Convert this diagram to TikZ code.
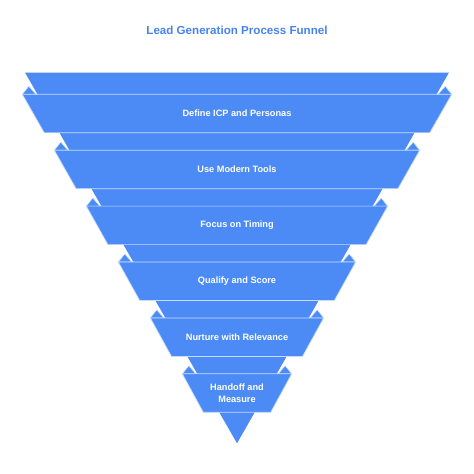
\documentclass[tikz,border=0pt]{standalone}
\usepackage{fontspec}
\setmainfont{Liberation Sans}
\definecolor{funnelblue}{RGB}{76,139,245}
\definecolor{titleblue}{RGB}{70,132,236}
\definecolor{edgecol}{RGB}{200,220,252}
\begin{document}
\begin{tikzpicture}[x=1pt,y=-1pt,
  cone/.style={fill=funnelblue},
  stagebox/.style={fill=funnelblue,draw=edgecol,line width=0.7pt,line join=miter},
  ear/.style={fill=funnelblue,draw=edgecol,line width=0.6pt},
  label/.style={text=white,font=\bfseries\fontsize{9.2}{11.4}\selectfont,align=center,inner sep=0pt},
  title/.style={text=titleblue,font=\bfseries\fontsize{11.6}{13}\selectfont,inner sep=0pt}]
\useasboundingbox (0,0) rectangle (474,474);
\fill[white] (0,0) rectangle (474,474);
\node[title] (ttl) at (237,30.5) {Lead Generation Process Funnel};
% background cone
\path[cone] (25,72.5) -- (449,72.5) -- (237,443.3) -- cycle;
% stages: top y, bottom y, top-left x, bottom-left x
\foreach \yt/\yb/\tl/\bl in {94.3/132.8/22.3/44.3,150.2/188.7/54.3/76.1,206.1/244.6/86.3/107.9,262.0/300.5/118.3/139.7,317.9/356.4/150.3/171.5,373.8/412.3/182.3/203.3}{
  \path[ear] (\tl,\yt) -- ({\tl+6.5},{\yt-8}) -- ({\tl+13.5},\yt) -- cycle;
  \path[ear] ({474-\tl},\yt) -- ({474-\tl-6.5},{\yt-8}) -- ({474-\tl-13.5},\yt) -- cycle;
  \path[stagebox] (\tl,\yt) -- ({474-\tl},\yt) -- ({474-\bl},\yb) -- (\bl,\yb) -- cycle;
}
\node[label] (s1) at (237,113.6) {Define ICP and Personas};
\node[label] (s2) at (237,169.5) {Use Modern Tools};
\node[label] (s3) at (237,225.4) {Focus on Timing};
\node[label] (s4) at (237,281.3) {Qualify and Score};
\node[label] (s5) at (237,337.2) {Nurture with Relevance};
\node[label] (s6) at (237,393.3) {Handoff and\\Measure};
\end{tikzpicture}
\end{document}
